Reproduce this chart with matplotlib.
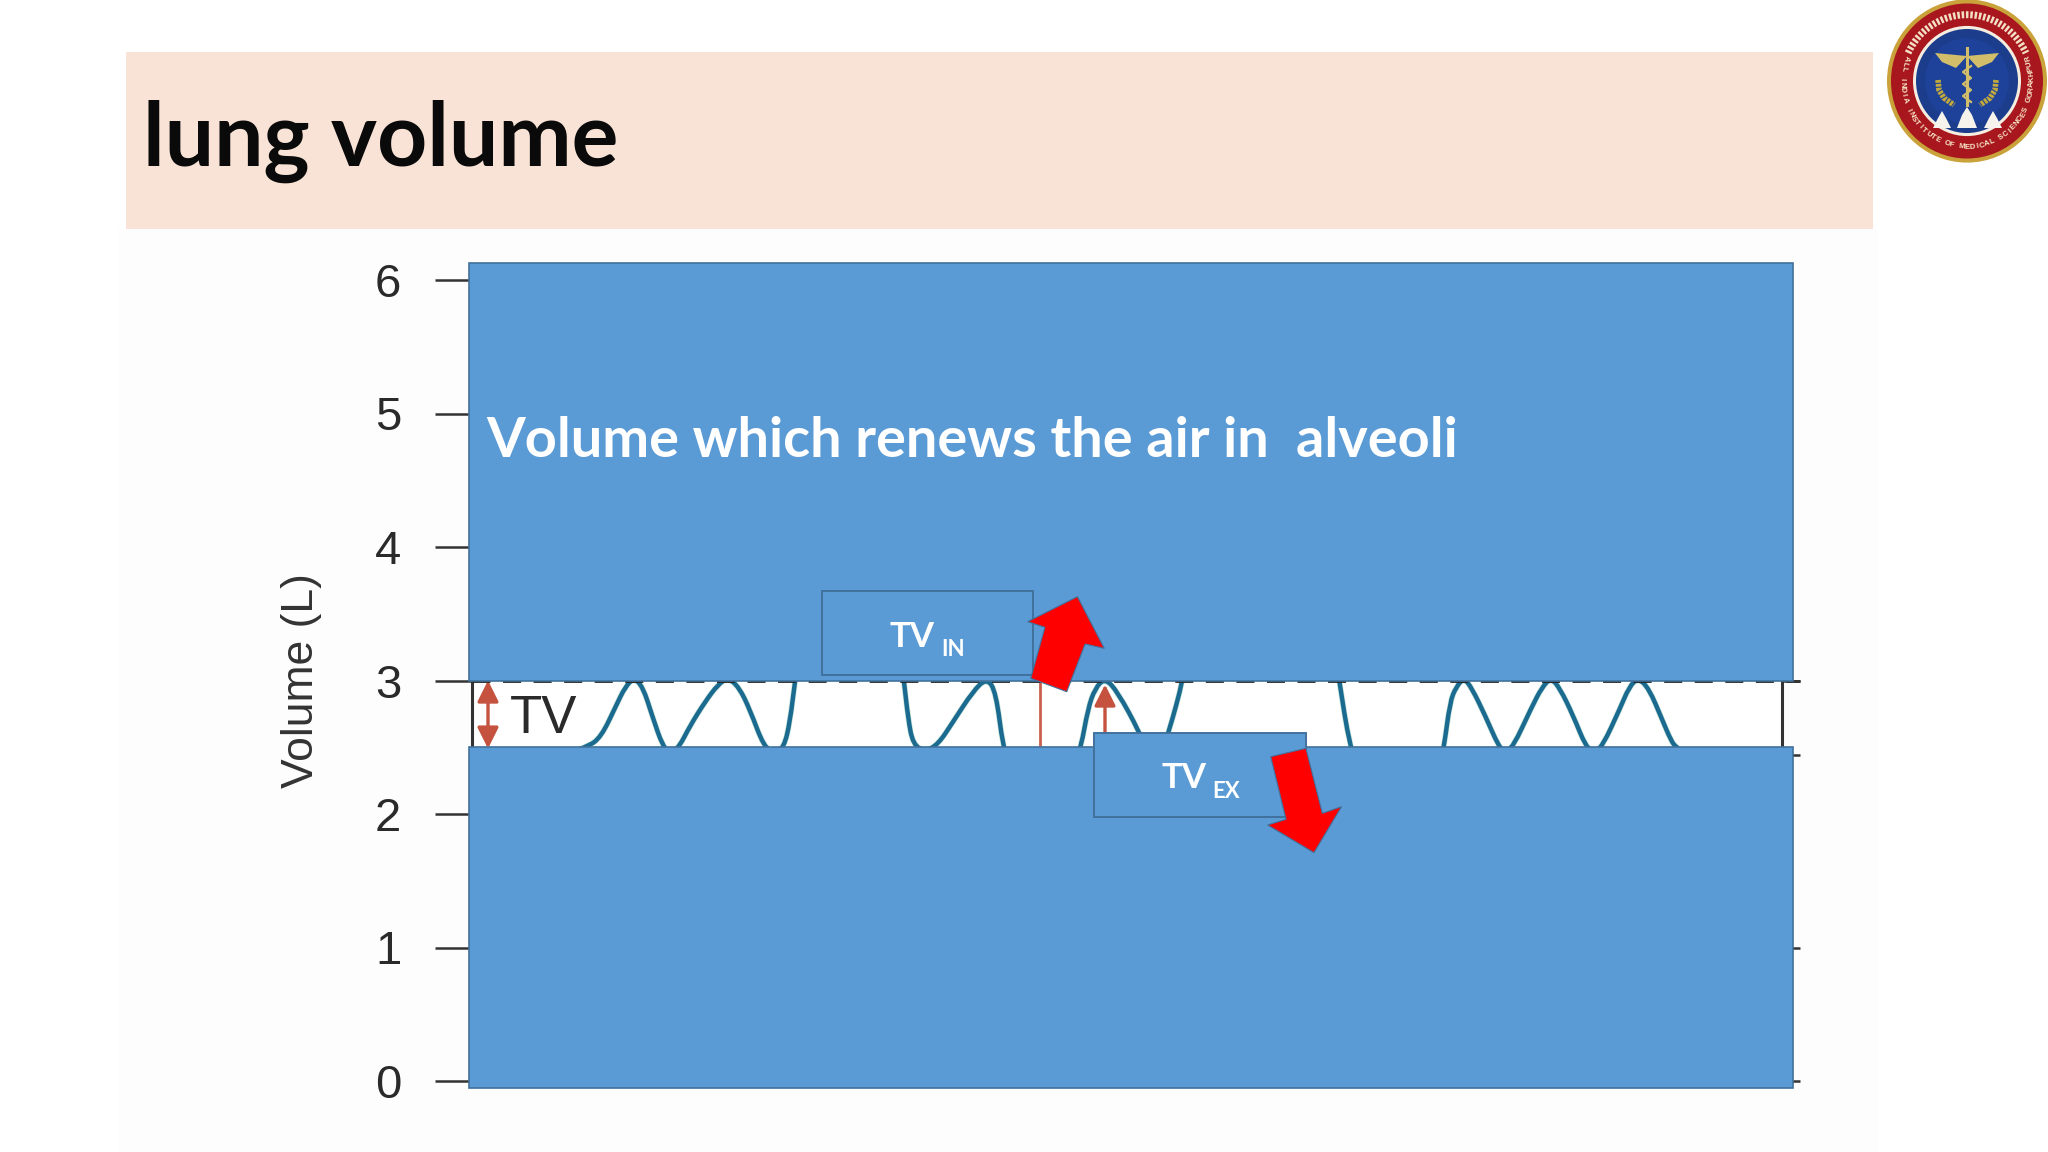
import numpy as np
import matplotlib
matplotlib.use("Agg")
import matplotlib.pyplot as plt
from matplotlib.patches import Rectangle, Polygon, Ellipse, PathPatch
from matplotlib.path import Path

plt.rcParams['lines.scale_dashes'] = False

# ---- data ----
volume_ticks = [0, 1, 2, 3, 4, 5, 6]
right_ticks = [0, 1, 2.44, 3]
tv_top = 3.0
tv_bottom = 2.52
time_trace = [550, 587, 601, 616, 625, 634, 643, 652, 663, 671, 679, 690, 705, 718, 728, 739, 750, 764, 775, 784,
              790, 795, 805, 850, 895, 904, 908, 913, 925, 938, 953, 973, 987, 996, 1003, 1012, 1040, 1072,
              1081, 1088, 1095, 1105, 1118, 1139, 1150, 1160, 1169, 1183, 1195, 1260, 1330, 1339, 1350, 1362,
              1400, 1436, 1444, 1450, 1456, 1464, 1472, 1485, 1499, 1505, 1513, 1531, 1542, 1551, 1560, 1573,
              1586, 1594, 1602, 1620, 1629, 1638, 1649, 1662, 1671, 1676, 1685]
volume_trace = [2.40, 2.50, 2.575, 2.81, 2.95, 3.02, 2.95, 2.74, 2.50, 2.46, 2.50, 2.66, 2.84, 2.97, 3.02, 2.95, 2.78, 2.50, 2.46, 2.50,
                2.69, 3.0, 3.5, 3.9, 3.5, 3.0, 2.72, 2.52, 2.47, 2.52, 2.69, 2.92, 3.02, 2.91, 2.50, 2.3, 2.2, 2.3,
                2.50, 2.79, 2.94, 3.02, 2.91, 2.62, 2.42, 2.42, 2.62, 3.0, 3.5, 4.0, 3.5, 3.0, 2.50, 2.2,
                2.0, 2.2, 2.50, 2.84, 2.95, 3.02, 2.94, 2.74, 2.50, 2.47, 2.50, 2.79, 2.95, 3.02, 2.94, 2.74,
                2.50, 2.47, 2.50, 2.79, 2.95, 3.02, 2.94, 2.71, 2.55, 2.50, 2.46]
heading = "lung volume"
statement = "Volume which renews the air in  alveoli"
y_title = "Volume (L)"
seal_text = "ALL INDIA INSTITUTE OF MEDICAL SCIENCES GORAKHPUR"

W, H = 2048, 1152
fig = plt.figure(figsize=(W / 100, H / 100), dpi=100, facecolor="white")
FONT = "Lato"
SANS = "Liberation Sans"

# ---- chart ----
ax = fig.add_axes([472 / W, 1 - 1081 / H, (1782 - 472) / W, (1081 - 280) / H], zorder=1)
ax.set_facecolor("white")
ax.set_xlim(472, 1782)
ax.set_ylim(0, 6)
ax.set_xticks([])
ax.set_yticks(volume_ticks)
ax.tick_params(axis="y", length=27, width=1.8, color="#333333", pad=24, labelsize=34, labelcolor="#2a2a2a")
for lab in ax.get_yticklabels():
    lab.set_family(SANS)
for s in ax.spines.values():
    s.set_color("#333333")
    s.set_linewidth(2.2)
ax.set_ylabel(y_title, family=SANS, fontsize=32, color="#333333", labelpad=38)

# smooth trace: the read points act as quadratic control points
pts = np.column_stack([time_trace, volume_trace])
mids = (pts[:-1] + pts[1:]) / 2
verts = [pts[0]]
codes = [Path.MOVETO]
for c, m in zip(pts[1:-1], mids[1:]):
    verts += [c, m]
    codes += [Path.CURVE3, Path.CURVE3]
ax.add_patch(PathPatch(Path(verts, codes), fc="none", ec="#8FC7B5", lw=4.2, alpha=0.45, zorder=2.9))
ax.add_patch(PathPatch(Path(verts, codes), fc="none", ec="#1B6A8F", lw=3.2, joinstyle="round", zorder=3))

ax.plot([472, 1800], [tv_top, tv_top], color="#222222", lw=2.0, ls=(0, (13, 9)), clip_on=False, zorder=4)
ax.plot([1040, 1040], [tv_bottom, tv_top], color="#C9604E", lw=2.0, zorder=2)
ax.annotate("", xy=(488, tv_top), xytext=(488, tv_bottom - 0.03),
            arrowprops=dict(arrowstyle="<|-|>", color="#C5523E", lw=2.4, mutation_scale=32, shrinkA=0, shrinkB=0))
ax.annotate("", xy=(1105, tv_top - 0.03), xytext=(1105, tv_bottom),
            arrowprops=dict(arrowstyle="-|>", color="#C5523E", lw=2.4, mutation_scale=32, shrinkA=0, shrinkB=0))
ax.text(544, 2.71, "TV", family=SANS, fontsize=38, color="#2a2a2a", ha="center", va="center")

tw = ax.twinx()
tw.set_ylim(0, 6)
tw.set_zorder(1)
tw.patch.set_alpha(0)
tw.set_yticks(right_ticks)
tw.set_yticklabels([])
tw.tick_params(axis="y", length=13, width=1.8, color="#333333")
for s in tw.spines.values():
    s.set_visible(False)

# ---- slide overlay in pixel space ----
ov = fig.add_axes([0, 0, 1, 1], zorder=5)
ov.set_xlim(0, W)
ov.set_ylim(H, 0)
ov.axis("off")
ov.patch.set_alpha(0)

bg = fig.add_axes([0, 0, 1, 1], zorder=0)
bg.set_xlim(0, W)
bg.set_ylim(H, 0)
bg.axis("off")
bg.add_patch(Rectangle((118, 229), 1760, 923, fc="#FEFDFE", ec="none"))

BLUE, EDGE = "#5B9BD5", "#41719C"
ov.add_patch(Rectangle((126, 52), 1747, 177, fc="#F9E3D6", ec="none"))
ov.text(143, 141, heading, family=FONT, weight="bold", fontsize=63, color="#0a0a0a", va="center", ha="left")

ov.add_patch(Rectangle((469, 263), 1324, 418, fc=BLUE, ec=EDGE, lw=1.2))
ov.add_patch(Rectangle((469, 747), 1324, 341, fc=BLUE, ec=EDGE, lw=1.2))
ov.text(486, 441, statement, family=FONT, weight="bold", fontsize=40.2, color="white", va="center", ha="left")

ov.add_patch(Rectangle((822, 591), 211, 84, fc=BLUE, ec=EDGE, lw=1.4))
ov.add_patch(Rectangle((1094, 733), 212, 84, fc=BLUE, ec=EDGE, lw=1.4))
ov.text(890, 637, "TV", family=FONT, weight="bold", fontsize=25, color="white", va="center", ha="left")
ov.text(941, 649, "IN", family=FONT, fontsize=16, weight="bold", color="white", va="center", ha="left")
ov.text(1162, 778, "TV", family=FONT, weight="bold", fontsize=25, color="white", va="center", ha="left")
ov.text(1212, 792, "EX", family=FONT, fontsize=16, weight="bold", color="white", va="center", ha="left")


def z4(pts):
    return [(800 + a / 2.613, 570 + b / 3) for a, b in pts]


ov.add_patch(Polygon(z4([(603, 325), (697, 365), (745, 222), (795, 235), (725, 80), (595, 155), (640, 172)]),
                     fc="#FF0000", ec=EDGE, lw=0.8))
ov.add_patch(Polygon(z4([(1230, 560), (1322, 535), (1365, 730), (1415, 710), (1343, 848), (1222, 765), (1270, 748)]),
                     fc="#FF0000", ec=EDGE, lw=0.8))

# ---- seal ----
cx, cy = 1967, 81
asp = 1.02


def ring(r, color, z=6):
    ov.add_patch(Ellipse((cx, cy), 2 * r, 2 * r * asp, fc=color, ec="none", zorder=z))


ring(80, "#C9A23A")
ring(76, "#A8161E")
ring(54, "#F4EDE0")
ring(51, "#1C3C8C")
ring(42, "#1E4299")

n = len(seal_text)
angles = np.linspace(200, -20, n)
for ch, a in zip(seal_text, angles):
    t = np.deg2rad(a)
    ov.text(cx + 65 * np.cos(t), cy + 65 * asp * np.sin(t), ch, fontsize=5.6, weight="bold", family=SANS,
            color="#F7E9C8", rotation=90 - a, ha="center", va="center", zorder=8,
            rotation_mode="anchor")
th = np.deg2rad(np.linspace(205, 335, 120))
ov.plot(cx + 65 * np.cos(th), cy + 65 * asp * np.sin(th), color="#F3DFC4", lw=5, ls=(0, (1.8, 1.3)), zorder=8)

gold = "#D2BE6A"
ov.plot([1967, 1967], [48, 105], color=gold, lw=2.2, zorder=9)
ov.add_patch(Polygon([(1967, 56), (1935, 53), (1942, 62), (1956, 68)], fc=gold, ec="none", zorder=9))
ov.add_patch(Polygon([(1967, 56), (1999, 53), (1992, 62), (1978, 68)], fc=gold, ec="none", zorder=9))
sy = np.array([66, 72, 78, 84, 90, 96, 102])
ov.plot(1967 + 4 * np.array([1, -1, 1, -1, 1, -1, 1]), sy, color=gold, lw=1.6, zorder=9)
ov.plot([1938, 1939, 1944, 1954], [80, 90, 98, 105], color="#C2A93E", lw=4, ls=(0, (2, 0.8)), zorder=9)
ov.plot([1996, 1995, 1990, 1980], [80, 90, 98, 105], color="#C2A93E", lw=4, ls=(0, (2, 0.8)), zorder=9)
for x0, top, hw in [(1942, 111, 9), (1967, 107, 10), (1993, 111, 9)]:
    ov.add_patch(Polygon([(x0 - hw, 128), (x0 - hw * 0.5, top + 8), (x0, top), (x0 + hw * 0.5, top + 8), (x0 + hw, 128)],
                         fc="#F6F3EC", ec="none", zorder=9))

fig.savefig("out.png", dpi=100, facecolor="white")
